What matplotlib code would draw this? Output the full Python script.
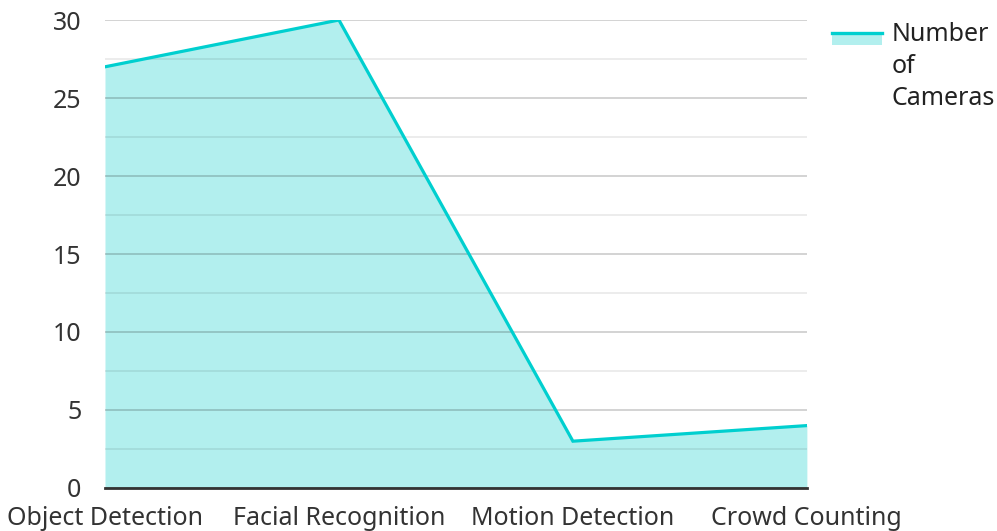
import matplotlib.pyplot as plt
import matplotlib.patches as mpatches
from matplotlib.lines import Line2D
from matplotlib.legend_handler import HandlerBase

plt.rcParams['font.family'] = ['Noto Sans', 'DejaVu Sans']

categories = ["Object Detection", "Facial Recognition", "Motion Detection", "Crowd Counting"]
cameras = [27, 30, 3, 4]
series_name = "Number\nof\nCameras"

line_color = "#00cfcf"
fill_color = "#b2efee"


class AreaHandler(HandlerBase):
    # filled box with the line along its top edge, level with the first text line
    def create_artists(self, legend, orig_handle, xdescent, ydescent,
                       width, height, fontsize, trans):
        top = height - ydescent + 0.06 * fontsize
        rect = mpatches.Rectangle((-xdescent, top - 0.5 * fontsize), width, 0.5 * fontsize,
                                  facecolor=fill_color, edgecolor="none", transform=trans)
        ln = Line2D([-xdescent, -xdescent + width], [top, top], color=line_color,
                    linewidth=2.4, transform=trans)
        return [rect, ln]


fig = plt.figure(figsize=(9.97, 5.31), dpi=100)
ax = fig.add_axes([0.1053, 0.081, 0.704, 0.8813])

x = list(range(len(categories)))
ax.fill_between(x, cameras, 0, color=fill_color, linewidth=0, zorder=1)
ax.plot(x, cameras, color=line_color, linewidth=2.3, zorder=3, solid_joinstyle="miter")

ax.set_xlim(0, len(categories) - 1)
ax.set_ylim(0, 30)
ax.set_yticks([0, 5, 10, 15, 20, 25, 30])
ax.set_yticks([2.5, 7.5, 12.5, 17.5, 22.5, 27.5], minor=True)
ax.set_xticks(x)
ax.set_xticklabels(categories)

ax.grid(axis="y", which="major", color="black", alpha=0.2, linewidth=1.2, zorder=2)
ax.grid(axis="y", which="minor", color="black", alpha=0.09, linewidth=1.2, zorder=2)
ax.set_axisbelow(False)

for s in ["top", "right", "left"]:
    ax.spines[s].set_visible(False)
ax.spines["bottom"].set_color("#333333")
ax.spines["bottom"].set_linewidth(2)
ax.spines["bottom"].set_zorder(4)

ax.tick_params(axis="both", which="both", length=0, labelsize=18, labelcolor="#333333")
ax.tick_params(axis="y", pad=17)
ax.tick_params(axis="x", pad=13)

handle = mpatches.Patch()
leg = ax.legend([handle], [series_name], handler_map={mpatches.Patch: AreaHandler()},
                loc="upper left", bbox_to_anchor=(1.021, 1.018), frameon=False,
                fontsize=18, handlelength=2.0, handleheight=3.9, handletextpad=0.4,
                borderaxespad=0, labelcolor="#222222")
for t in leg.get_texts():
    t.set_linespacing(1.38)

fig.savefig("out.png", dpi=100)
